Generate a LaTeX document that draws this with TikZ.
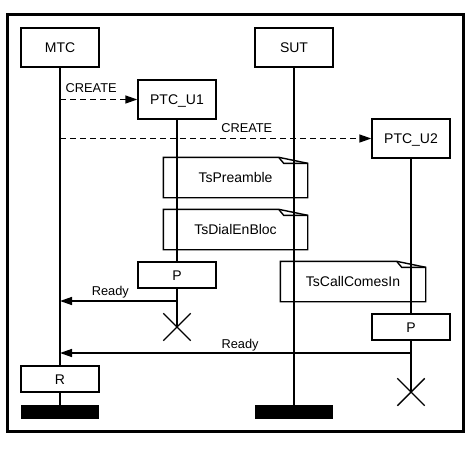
\documentclass[tikz,border=0pt]{standalone}
\usepackage{fontspec}
\setmainfont{Liberation Sans}
\usetikzlibrary{arrows.meta,positioning,shapes.misc}
\tikzset{font=\fontsize{14}{16}\selectfont}
\tikzset{inst/.style={draw, minimum width=78pt, minimum height=39pt, inner sep=0pt,
    text height=10pt, text depth=0pt}}
\tikzset{act/.style={inst, minimum height=26pt}}
\tikzset{notebox/.style={minimum width=143pt, minimum height=39pt, inner sep=0pt,
    text height=10pt, text depth=0pt}}
\tikzset{bar/.style={fill, minimum width=78pt, minimum height=14pt, inner sep=0pt}}
\tikzset{stop/.style={draw, cross out, minimum size=26pt, inner sep=0pt}}
\tikzset{msg/.style={-{Triangle[length=12pt,width=8pt]}}}
\tikzset{lbl/.style={font=\fontsize{12.8}{14}\selectfont, inner sep=0pt}}

\begin{document}
\begin{tikzpicture}[x=1pt,y=-1pt,line width=1.4pt]
\useasboundingbox (0,0) rectangle (474,453);
\draw[line width=3pt] (7,14) rectangle (463,431);

% instances
\node[inst] (mtc) at (60,47.5) {MTC};
\node[inst] (sut) at (294,47.5) {SUT};
\node[inst] (ptcA) at (177,99.5) {PTC\_U1};
\node[inst] (ptcB) at (411,138.5) {PTC\_U2};

% test steps
\node[notebox] (preamble) at (235.5,177.5) {TsPreamble};
\node[notebox] (dial) at (235.5,229.5) {TsDialEnBloc};
\node[notebox, minimum width=144pt] (callIn) at (353,281.5) {TsCallComesIn};
\foreach \n in {preamble,dial,callIn}{
  \draw (\n.north west) -- ([xshift=-29pt]\n.north east) -- ([yshift=-6pt]\n.north east)
    -- (\n.south east) -- (\n.south west) -- cycle;
  \draw ([xshift=-29pt]\n.north east) -- ([xshift=-24pt,yshift=-6pt]\n.north east)
    -- ([yshift=-6pt]\n.north east);
}

% actions and ends
\node[act] (pA) at (177,275) {P};
\node[act] (pB) at (411,327) {P};
\node[act] (rM) at (60,379) {R};
\node[bar, below=12pt of rM] (barM) {};
\node[bar] (barS) at (sut |- barM) {};
\node[stop] (xA) at (177,327) {};
\node[stop] (xB) at (411,392) {};

% lifelines
\draw (mtc) -- (rM) (rM) -- (barM);
\draw (sut) -- (barS);
\draw (ptcA) -- (pA) (pA.south) -- (xA.center);
\draw (ptcB) -- (pB) (pB.south) -- (xB.center);

% messages
\draw[msg, dash pattern=on 6pt off 4pt] (mtc |- ptcA) -- (ptcA.west)
  node[lbl, anchor=base west, at start, xshift=5pt, yshift=7pt] {CREATE};
\draw[msg, dash pattern=on 6pt off 4pt] (mtc |- ptcB) -- (ptcB.west)
  node[lbl, anchor=base, pos=0.6, yshift=6pt] {CREATE};
\coordinate (rdyA) at (177,301);
\coordinate (rdyB) at (411,353);
\draw[msg] (rdyA) -- (rdyA -| mtc) node[lbl, anchor=base, pos=0.57, yshift=6pt] {Ready};
\draw[msg] (rdyB) -- (rdyB -| mtc) node[lbl, anchor=base, pos=0.487, yshift=5pt] {Ready};

\end{tikzpicture}
\end{document}
